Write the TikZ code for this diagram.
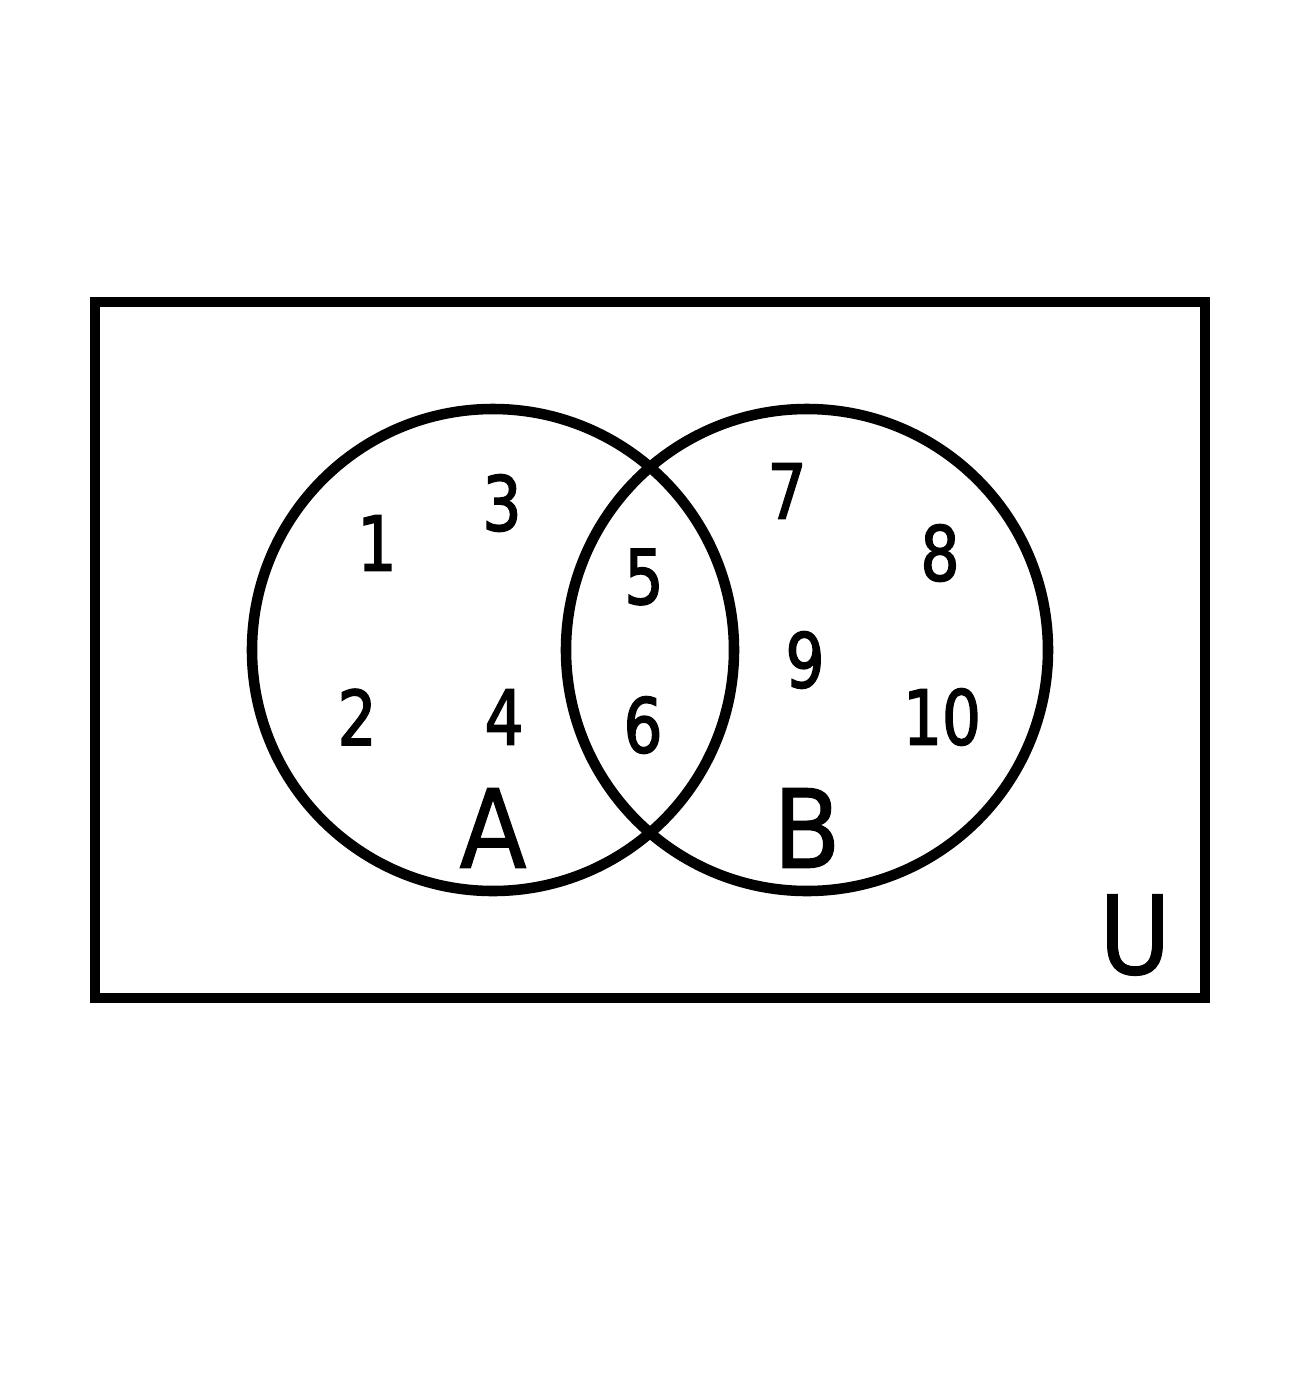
\documentclass[tikz,border=0pt]{standalone}
\usepackage{fontspec}
\setmainfont{DejaVu Sans Condensed}
\newfontfamily\numfont[FakeBold=2, FakeStretch=0.9]{DejaVu Sans Condensed}
\newfontfamily\letterfont[FakeBold=1]{DejaVu Sans Condensed}
\tikzset{
  setline/.style = {line width=3pt},
  num/.style = {inner sep=0pt, font=\fontsize{21.5}{24}\numfont},
  setname/.style = {inner sep=0pt, font=\fontsize{31}{34}\letterfont}
}
\begin{document}
\begin{tikzpicture}[x=0.01cm, y=-0.01cm]
    \fill[white] (0,0) rectangle (1300,1390);
    \useasboundingbox (0,0) rectangle (1300,1390);
    \draw[setline] (95,302) rectangle (1205,998);
    \draw[setline] (493,650) circle (241)
                   (807,650) circle (241);
    \node[num] (n1) at (377,543) {1};
    \node[num] (n2) at (357,717) {2};
    \node[num] (n3) at (502,503) {3};
    \node[num] (n4) at (504,717) {4};
    \node[num] (n5) at (644,577) {5};
    \node[num] (n6) at (643,725) {6};
    \node[num] (n7) at (787,491) {7};
    \node[num] (n8) at (940,553) {8};
    \node[num] (n9) at (805,660) {9};
    \node[num] (n10) at (942,717) {10};
    \node[setname] (setA) at (493,828) {A};
    \node[setname] (setB) at (807,828) {B};
    \node[setname] (setU) at (1135,935) {U};
\end{tikzpicture}
\end{document}
